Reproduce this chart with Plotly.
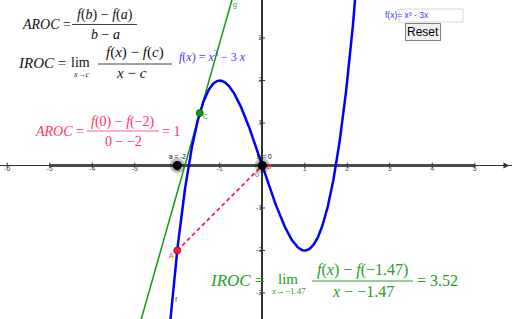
import numpy as np
import plotly.graph_objects as go

W, H = 512, 319

# ---- data -------------------------------------------------------------
x_range = [-6.17, 5.875]
y_range = [-3.612, 3.894]
coeffs = [1, 0, -3, 0]          # f(x) = x^3 - 3x
curve_span = [-2.4, 2.4]
a_val = -2.0
b_val = 0.0
c_val = -1.47
iroc_val = 3.52
aroc_val = 1
slider_range = [-5, 5]
x_ticks = [-6, -5, -4, -3, -2, -1, 1, 2, 3, 4, 5]
y_ticks = [-3, -2, -1, 1, 2, 3]

# ---- helpers ------------------------------------------------------------
def f(x):
    return np.polyval(coeffs, x)

def px(x):
    return x / W

def py(y):
    return 1 - y / H

MATH = "Liberation Serif"
SANS = "Liberation Sans"
BLACK = "#111111"
RED = "#ff3366"
GREEN = "#22a022"
BLUE_TXT = "#3b3bff"

fig = go.Figure()

# thick slider segment on x axis
fig.add_trace(go.Scatter(x=slider_range, y=[0, 0], mode="lines",
                         line=dict(color="#4a4a4a", width=3), hoverinfo="skip"))

# tick marks
fig.add_trace(go.Scatter(x=x_ticks, y=[0] * len(x_ticks), mode="markers",
                         marker=dict(symbol="line-ns", size=4,
                                     line=dict(color="#333", width=1)),
                         hoverinfo="skip"))
fig.add_trace(go.Scatter(x=[0] * len(y_ticks), y=y_ticks, mode="markers",
                         marker=dict(symbol="line-ew", size=4,
                                     line=dict(color="#333", width=1)),
                         hoverinfo="skip"))
# axis arrow at the right end of the x axis
fig.add_trace(go.Scatter(x=[x_range[1] - 0.06], y=[0], mode="markers",
                         marker=dict(symbol="arrow-right", size=6, color="#333"),
                         hoverinfo="skip"))
# tick labels
fig.add_trace(go.Scatter(x=x_ticks, y=[0] * len(x_ticks), mode="text",
                         text=[str(t) for t in x_ticks], textposition="bottom center",
                         textfont=dict(size=7, color="#555", family=SANS),
                         hoverinfo="skip"))
fig.add_trace(go.Scatter(x=[0] * len(y_ticks), y=y_ticks, mode="text",
                         text=[str(t) for t in y_ticks], textposition="middle left",
                         textfont=dict(size=7, color="#555", family=SANS),
                         hoverinfo="skip"))

# tangent line g through C
slope = iroc_val
xt = np.array(x_range)
fig.add_trace(go.Scatter(x=xt, y=f(c_val) + slope * (xt - c_val), mode="lines",
                         line=dict(color="#119911", width=1.5), hoverinfo="skip"))

# cubic f
xs = np.linspace(curve_span[0], curve_span[1], 500)
fig.add_trace(go.Scatter(x=xs, y=f(xs), mode="lines",
                         line=dict(color="#0000ff", width=2.5), hoverinfo="skip"))

# secant A-B dashed
fig.add_trace(go.Scatter(x=[a_val, b_val], y=[f(a_val), f(b_val)], mode="lines",
                         line=dict(color="#ff1a4a", width=1.8, dash="4px,3px"),
                         hoverinfo="skip"))

# slider points a, b (halo + dot)
fig.add_trace(go.Scatter(x=[a_val, b_val], y=[0, 0], mode="markers",
                         marker=dict(size=15, color="rgba(0,0,0,0.25)"),
                         hoverinfo="skip"))
fig.add_trace(go.Scatter(x=[a_val, b_val], y=[0, 0], mode="markers",
                         marker=dict(size=9, color="#000"), hoverinfo="skip"))

# points A, C
fig.add_trace(go.Scatter(x=[a_val], y=[f(a_val)], mode="markers",
                         marker=dict(size=7, color="#ff1a3a",
                                     line=dict(color="#aa0000", width=0.8)),
                         hoverinfo="skip"))
fig.add_trace(go.Scatter(x=[c_val], y=[f(c_val)], mode="markers",
                         marker=dict(size=7, color="#119911",
                                     line=dict(color="#005500", width=0.8)),
                         hoverinfo="skip"))

ann = []

def pa(text, x, y, size, color=BLACK, xanchor="center", family=MATH, **kw):
    d = dict(text=text, x=px(x), y=py(y), xref="paper", yref="paper",
             xanchor=xanchor, yanchor="middle", showarrow=False,
             font=dict(size=size, color=color, family=family))
    d.update(kw)
    ann.append(d)

shapes = []

def bar(x0, x1, y, color, w=1):
    shapes.append(dict(type="line", xref="paper", yref="paper",
                       x0=px(x0), x1=px(x1), y0=py(y), y1=py(y),
                       line=dict(color=color, width=w)))

# Eq 1: AROC definition
pa("<i>AROC</i> =", 20, 25, 14, xanchor="left")
pa("<i>f</i>(<i>b</i>) − <i>f</i>(<i>a</i>)", 104.5, 15, 14)
bar(72, 137, 24.5, BLACK, 0.8)
pa("<i>b</i> − <i>a</i>", 105, 34, 14)

# Eq 2: IROC definition
pa("<i>IROC</i> =", 16, 63, 15, xanchor="left")
pa("lim", 80, 62, 14)
pa("<i>x</i>→<i>c</i>", 81, 74, 8)
pa("<i>f</i>(<i>x</i>) − <i>f</i>(<i>c</i>)", 135, 53, 15)
bar(98, 172, 64, BLACK, 0.8)
pa("<i>x</i> − <i>c</i>", 131, 73, 15)

# blue function label
pa("<i>f</i>(<i>x</i>) = <i>x</i><sup>3</sup> − 3 <i>x</i>", 177, 57, 12,
   color=BLUE_TXT, xanchor="left")

# red AROC computation
fa = int(a_val)
fb = int(b_val)
pa("<i>AROC</i> =", 33, 132, 14, color=RED, xanchor="left")
pa(f"<i>f</i>({fb}) − <i>f</i>(−{abs(fa)})", 123, 122, 14, color=RED)
bar(87, 159, 131, RED, 0.8)
pa(f"{fb} − −{abs(fa)}", 123.5, 141.5, 14, color=RED)
pa(f"= {aroc_val}", 160, 132, 14, color=RED, xanchor="left")

# green IROC computation
cs = f"{abs(c_val):.2f}"
pa("<i>IROC</i> =", 208, 280, 17, color=GREEN, xanchor="left")
pa("lim", 288, 279, 15, color=GREEN)
pa(f"<i>x</i>→−{cs}", 288, 291, 9, color=GREEN)
pa(f"<i>f</i>(<i>x</i>) − <i>f</i>(−{cs})", 362, 270, 16, color=GREEN)
bar(312, 413, 281, GREEN, 1)
pa(f"<i>x</i> − −{cs}", 363, 291, 16, color=GREEN)
pa(f"= {iroc_val:.2f}", 415, 280, 16, color=GREEN, xanchor="left")

# input box + Reset button
shapes.append(dict(type="rect", xref="paper", yref="paper",
                   x0=px(399), x1=px(463), y0=py(22), y1=py(9),
                   line=dict(color="#d6d6d6", width=1), fillcolor="white"))
pa("f(x)= x³ - 3x", 383, 15.5, 8.5, color="#3333ff", xanchor="left", family=SANS)
pa("Reset", 423, 32, 12, color="#000", family=SANS,
   bgcolor="#f0f0f0", bordercolor="#808080", borderwidth=1, borderpad=1)

# small object labels in data coordinates
def da(text, x, y, size, color, xshift=0, yshift=0):
    ann.append(dict(text=text, x=x, y=y, xref="x", yref="y", showarrow=False,
                    xshift=xshift, yshift=yshift,
                    font=dict(size=size, color=color, family=SANS)))

da(f"a = {fa}", a_val, 0, 6.5, "#000", yshift=9)
da(f"b = {fb}", b_val, 0, 6.5, "#000", xshift=2, yshift=9)
da("B", b_val, 0, 6.5, RED, xshift=7, yshift=-1)
da("A", a_val, f(a_val), 6.5, RED, xshift=-6, yshift=-5)
da("C", c_val, f(c_val), 6.5, "#22aa22", xshift=6, yshift=-3)
da("f", -2.03, -3.16, 7, "#3333ff")
da("g", -0.64, 3.78, 7, "#22aa22")
da("0", 0, 0, 7, "#555", xshift=-5, yshift=-9)

fig.update_layout(
    width=W, height=H, autosize=False,
    margin=dict(l=0, r=0, t=0, b=0),
    paper_bgcolor="white", plot_bgcolor="white",
    showlegend=False,
    xaxis=dict(range=x_range, showgrid=False, showticklabels=False, ticks="",
               zeroline=True, zerolinecolor="#333", zerolinewidth=1.5, fixedrange=True),
    yaxis=dict(range=y_range, showgrid=False, showticklabels=False, ticks="",
               zeroline=True, zerolinecolor="#333", zerolinewidth=1, fixedrange=True),
    annotations=ann, shapes=shapes,
)

fig.write_html("out.html", config={"displayModeBar": False})
